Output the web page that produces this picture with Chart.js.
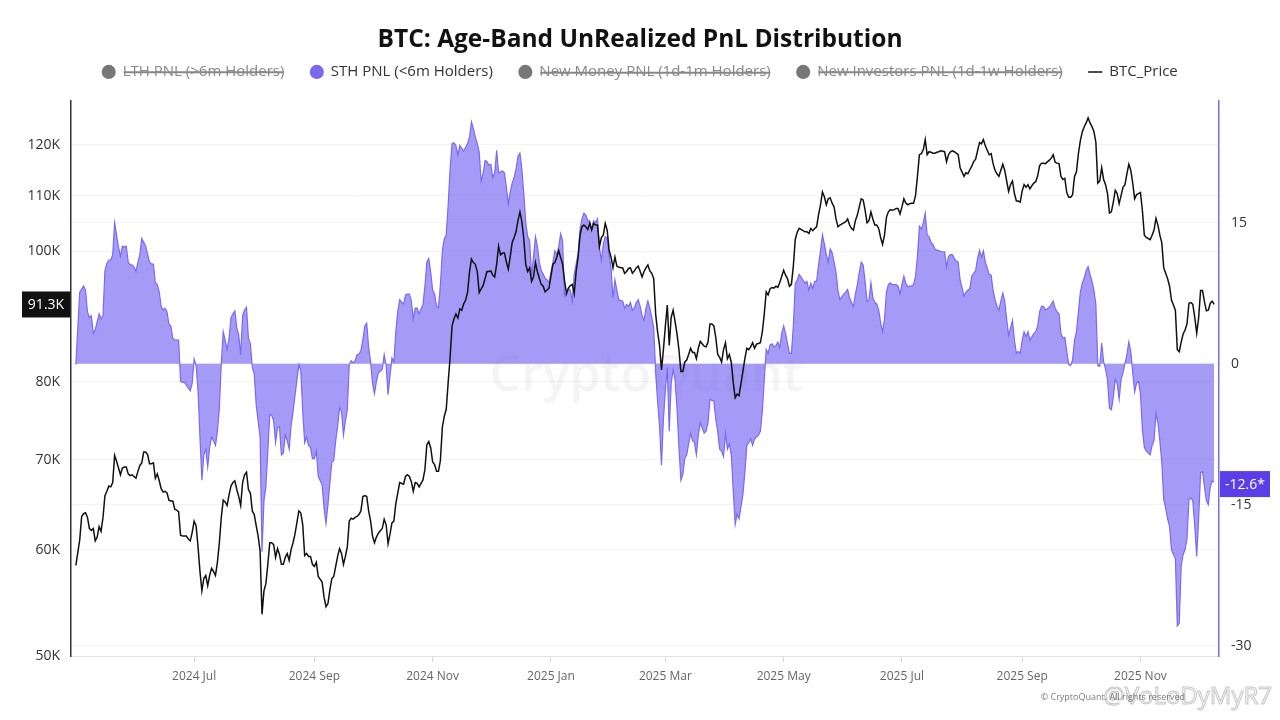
<!DOCTYPE html>
<html>
<head>
<meta charset="utf-8">
<title>BTC: Age-Band UnRealized PnL Distribution</title>
<script src="https://cdn.jsdelivr.net/npm/chart.js@4.4.1/dist/chart.umd.min.js"></script>
<style>
  html, body { margin: 0; padding: 0; background: #fff; }
  #wrap { width: 1280px; height: 720px; }
</style>
</head>
<body>
<div id="wrap"><canvas id="chart" width="1280" height="720"></canvas></div>
<script>
// x = days since 2024-05-01.
const X_MIN = -2.5;
const X_MAX = 589.5;
const MONTH_TICKS = [61, 123, 184, 245, 304, 365, 426, 488, 549];
const MONTH_LABELS = ['2024 Jul', '2024 Sep', '2024 Nov', '2025 Jan', '2025 Mar', '2025 May', '2025 Jul', '2025 Sep', '2025 Nov'];
const PRICE_TICKS = [50, 60, 70, 80, 100, 110, 120]; // K USD, log axis
const PNL_TICKS = [-30, -15, 0, 15];

const LEGEND = ['LTH PNL (>6m Holders)', 'STH PNL (<6m Holders)', 'New Money PNL (1d-1m Holders)', 'New Investors PNL (1d-1w Holders)', 'BTC_Price'];

// STH unrealized PnL [day, value]
const STH_PNL = [
  [0,-0.1],[2,7.6],[4,8.25],[5,7.8],[6,5.5],[7,4.9],[8,5.1],[9,3.2],[10,3.6],[12,5.3],[13,4.75],[14,5.1],[15,9.9],[16,10.65],[17,11.0],[18,11.0],[19,11.6],[20,15.0],
  [21,13.7],[22,12.4],[23,11.4],[24,12.5],[25,12.4],[26,12.5],[27,10.8],[28,10.5],[29,10.5],[30,10.3],[31,9.8],[32,10.8],[33,11.6],[34,13.3],[35,12.9],[36,12.5],
  [38,10.8],[39,10.6],[40,10.6],[41,8.6],[42,8.4],[43,7.6],[44,6.1],[45,5.7],[46,5.9],[47,5.5],[48,4.2],[49,4.0],[50,2.7],[51,2.5],[53,2.5],[54,-1.9],[55,-2.0],
  [56,-2.0],[57,-2.3],[59,-2.9],[60,-2.1],[61,0.5],[62,-0.2],[63,-2.85],[64,-7.8],[65,-12.4],[66,-9.7],[67,-9.1],[68,-11.0],[69,-8.9],[70,-7.8],[71,-8.2],[72,-8.7],
  [73,-7.2],[74,-4.75],[75,0],[76,3.4],[77,2.5],[78,1.5],[79,2.7],[80,4.9],[81,5.3],[82,5.6],[83,3.8],[84,3.0],[85,0.95],[86,5.1],[87,5.7],[88,6.0],[89,2.7],[90,2.1],
  [91,-0.4],[92,-1.1],[93,-4.4],[95,-7.8],[96,-20.0],[97,-14.6],[98,-13.1],[99,-9.3],[100,-5.4],[101,-5.5],[102,-6.1],[103,-8.4],[104,-6.8],[105,-6.7],[106,-9.7],
  [107,-9.5],[108,-7.6],[109,-8.2],[110,-9.1],[111,-6.6],[112,-5.1],[113,-3.4],[115,-0.1],[116,-0.8],[117,-5.1],[118,-8.4],[119,-7.8],[120,-8.7],[121,-8.9],
  [122,-10.1],[123,-10.1],[124,-9.3],[125,-12.0],[127,-12.9],[128,-15.4],[129,-17.0],[130,-15.0],[131,-12.7],[132,-10.5],[133,-10.3],[134,-8.2],[135,-6.65],
  [136,-4.7],[137,-5.1],[138,-7.6],[139,-6.1],[140,-4.9],[141,-0.1],[142,0.3],[143,0.1],[144,0.3],[145,0.95],[146,1.0],[147,1.4],[148,2.5],[149,4.0],[150,4.3],
  [151,1.7],[152,0.2],[153,-2.1],[154,-3.2],[155,-1.9],[156,-1.0],[158,-0.6],[159,0.95],[160,-0.2],[161,-3.3],[162,-1.3],[163,0.6],[164,0.2],[165,3.4],[166,5.5],
  [167,6.8],[169,6.3],[170,7.3],[171,7.4],[172,7.4],[173,6.65],[174,4.75],[175,5.9],[176,5.9],[177,5.3],[179,6.3],[180,8.2],[181,10.8],[182,11.2],[183,9.7],
  [184,7.8],[185,7.4],[186,6.1],[187,6.0],[188,8.4],[189,12.0],[190,13.3],[191,13.7],[192,16.9],[193,20.7],[194,23.4],[195,23.5],[196,23.2],[197,22.2],[198,23.2],
  [200,22.6],[201,23.0],[202,23.4],[203,24.1],[204,25.7],[205,25.0],[206,24.1],[207,23.4],[208,22.5],[209,19.4],[210,20.2],[211,21.6],[212,21.5],[213,21.1],
  [214,21.2],[215,19.8],[216,20.3],[217,22.7],[218,20.3],[220,20.5],[221,20.3],[222,18.8],[223,17.0],[224,18.25],[225,19.2],[226,19.8],[227,20.7],[228,22.05],
  [229,22.4],[230,20.7],[231,18.1],[232,15.0],[233,13.5],[234,13.1],[235,9.3],[236,11.4],[237,13.5],[238,12.5],[239,10.8],[240,9.9],[242,9.1],[243,8.9],[244,8.6],
  [245,9.7],[246,10.8],[247,12.0],[248,11.6],[249,12.4],[250,13.8],[251,13.1],[252,7.2],[253,7.6],[254,8.0],[255,7.8],[256,6.65],[257,9.5],[259,11.7],[260,14.3],
  [261,15.4],[262,16.0],[263,15.8],[264,15.2],[265,15.2],[266,14.3],[267,15.2],[268,15.0],[269,15.4],[270,12.4],[271,11.0],[272,12.7],[273,13.5],[274,13.3],
  [275,11.6],[276,10.1],[277,7.0],[278,8.9],[279,7.8],[280,6.8],[282,6.65],[283,5.9],[284,6.3],[285,6.1],[286,6.5],[287,5.7],[288,5.9],[289,6.5],[290,6.8],
  [291,6.1],[292,5.1],[293,4.6],[294,5.9],[295,6.65],[296,5.9],[297,4.9],[298,3.8],[299,-0.95],[300,-4.0],[301,-6.65],[302,-10.8],[303,-5.9],[304,-2.85],[305,-0.4],
  [306,-7.2],[307,-2.1],[308,-0.65],[309,-1.7],[310,-4.75],[311,-8.9],[312,-12.4],[313,-11.8],[314,-10.1],[315,-9.7],[316,-8.55],[317,-7.4],[318,-8.2],[319,-8.4],
  [320,-9.7],[321,-7.6],[322,-6.3],[324,-7.4],[325,-7.2],[326,-6.3],[327,-3.8],[328,-3.9],[329,-4.0],[330,-5.9],[331,-7.2],[332,-9.1],[333,-9.3],[334,-9.9],
  [335,-7.4],[336,-9.1],[337,-8.55],[338,-9.7],[339,-13.5],[340,-17.1],[341,-16.0],[342,-16.5],[344,-13.9],[345,-11.6],[346,-8.7],[347,-8.4],[348,-8.0],[349,-8.7],
  [350,-8.0],[351,-7.8],[352,-7.6],[353,-7.2],[354,-5.1],[355,-1.7],[356,1.5],[357,1.1],[358,2.0],[359,2.1],[360,1.8],[361,1.9],[362,2.3],[363,1.7],[364,3.2],
  [365,4.0],[366,3.2],[367,2.1],[368,1.1],[369,1.1],[370,4.0],[371,8.55],[372,8.9],[373,9.5],[375,8.9],[376,8.55],[377,8.75],[378,7.8],[379,8.55],[380,8.0],
  [381,8.75],[382,8.75],[383,10.5],[384,12.0],[385,13.7],[386,12.7],[387,11.6],[388,10.8],[389,12.2],[390,11.8],[391,10.8],[392,9.7],[393,7.8],[394,6.8],[396,7.4],
  [397,7.6],[398,7.9],[399,7.0],[400,6.5],[401,6.1],[402,7.4],[403,8.4],[404,9.7],[405,10.8],[406,10.5],[407,8.75],[408,6.65],[409,6.8],[410,8.6],[411,7.0],
  [412,6.5],[413,6.35],[414,5.7],[415,4.4],[416,3.4],[417,4.75],[418,7.6],[419,8.4],[420,8.6],[421,8.4],[422,8.4],[423,8.4],[424,8.25],[425,7.4],[426,8.4],
  [427,9.3],[428,8.55],[429,8.2],[430,8.25],[431,8.25],[432,8.4],[433,9.3],[434,11.4],[435,14.6],[436,14.3],[437,15.0],[438,16.0],[439,13.7],[440,13.5],[441,12.9],
  [442,12.7],[443,12.2],[444,12.05],[445,12.05],[446,11.9],[448,11.9],[449,10.3],[450,11.4],[451,11.6],[452,11.6],[453,11.2],[454,10.9],[455,10.8],[456,8.9],
  [458,7.2],[459,7.6],[460,7.8],[461,8.0],[462,9.3],[463,9.6],[464,9.9],[465,11.2],[466,12.05],[467,11.3],[468,12.0],[469,10.8],[471,9.5],[472,9.4],[473,7.8],
  [474,6.8],[475,6.1],[476,5.7],[477,6.65],[478,7.5],[479,6.65],[480,4.75],[481,3.0],[482,3.8],[483,4.6],[484,2.5],[485,1.1],[486,1.3],[487,1.1],[488,2.5],
  [489,3.4],[490,2.9],[491,3.4],[492,2.5],[493,2.85],[494,3.2],[495,3.4],[496,4.0],[497,5.5],[498,6.1],[499,6.1],[500,5.7],[502,6.0],[503,6.3],[504,6.65],
  [505,5.9],[506,5.5],[507,5.3],[508,3.2],[509,2.7],[510,2.8],[511,1.3],[512,-0.1],[513,-0.2],[514,0.4],[515,2.5],[516,3.4],[517,5.5],[518,7.6],[519,8.55],
  [520,9.1],[521,9.9],[522,10.3],[523,9.5],[524,8.75],[525,7.8],[526,6.3],[527,-0.2],[528,-0.3],[529,2.2],[530,0.2],[531,-0.6],[532,-1.7],[533,-4.75],[534,-4.9],
  [535,-3.6],[536,-1.7],[537,-2.1],[538,-3.8],[539,-1.7],[540,-0.95],[541,0],[542,0.95],[543,2.3],[544,1.3],[545,-0.95],[546,-3.0],[547,-2.1],[548,-1.9],
  [549,-3.2],[550,-7.0],[551,-8.9],[552,-9.3],[554,-9.7],[555,-8.7],[556,-8.2],[557,-5.3],[558,-6.3],[559,-8.2],[560,-10.5],[561,-14.45],[562,-15.4],[563,-16.5],
  [564,-17.3],[565,-19.8],[566,-20.3],[567,-20.7],[568,-27.9],[569,-27.6],[570,-21.5],[571,-20.3],[572,-19.8],[573,-18.6],[574,-14.45],[575,-14.3],[576,-14.6],
  [577,-17.3],[578,-20.5],[579,-16.5],[580,-11.6],[581,-11.5],[582,-13.1],[583,-14.6],[584,-15.0],[585,-13.1],[586,-12.5],[587,-12.6]
];

// BTC price in K USD [day, value]
const BTC_PRICE = [
  [0,58.4],[2,61.0],[3,63.5],[4,63.8],[5,63.9],[6,63.4],[7,62.2],[8,62.0],[9,62.2],[10,60.9],[11,61.3],[12,62.4],[13,61.9],[14,63.4],[15,65.8],[16,66.3],[17,66.9],
  [18,66.8],[19,67.3],[20,70.5],[21,69.8],[22,69.0],[23,68.2],[24,69.0],[25,69.1],[26,69.1],[27,68.3],[28,68.1],[29,68.2],[30,68.0],[31,67.8],[32,68.6],[33,69.3],
  [34,69.6],[35,70.9],[36,70.9],[37,70.6],[38,69.5],[39,69.5],[40,69.6],[41,67.8],[42,68.3],[43,67.5],[44,66.6],[45,66.2],[46,66.3],[47,66.1],[48,65.3],[49,65.2],
  [50,65.2],[51,64.3],[52,64.2],[53,64.0],[54,61.5],[55,61.4],[56,61.4],[57,61.4],[58,61.1],[59,60.9],[60,61.8],[61,63.0],[62,62.5],[63,60.3],[64,57.8],[65,55.9],
  [66,57.1],[67,57.4],[68,56.4],[69,57.4],[70,58.1],[71,57.8],[72,57.4],[73,58.7],[74,60.7],[75,63.4],[76,65.3],[77,65.1],[78,64.7],[79,65.9],[80,66.9],[81,67.3],
  [82,67.5],[83,66.5],[84,65.7],[85,64.7],[86,67.3],[87,68.2],[88,68.5],[89,66.5],[90,66.1],[91,64.1],[92,63.7],[93,62.5],[94,61.4],[95,59.9],[96,53.7],[97,55.9],
  [98,56.6],[99,58.5],[100,60.7],[101,60.7],[102,60.5],[103,59.2],[104,60.1],[105,59.5],[106,58.5],[107,58.5],[108,59.2],[109,59.6],[110,58.9],[111,60.0],[112,60.7],
  [113,61.6],[115,64.1],[116,63.9],[117,62.6],[118,59.4],[119,59.6],[120,59.3],[121,59.3],[122,58.5],[123,58.3],[124,58.7],[125,57.3],[127,56.75],[128,55.3],
  [129,54.4],[130,54.7],[131,56.0],[132,57.1],[133,57.3],[134,58.3],[135,59.3],[136,60.1],[137,59.6],[138,58.5],[139,59.3],[140,60.3],[141,63.0],[142,63.3],
  [143,63.2],[144,63.4],[145,63.5],[146,63.7],[147,64.1],[148,65.7],[149,65.8],[150,65.7],[151,64.1],[152,63.0],[153,61.4],[154,60.7],[155,61.3],[156,61.7],
  [158,62.2],[159,63.2],[160,62.6],[161,60.6],[162,61.6],[163,62.8],[164,63.0],[165,64.9],[166,66.1],[167,67.3],[169,67.1],[170,68.0],[171,68.2],[172,68.0],
  [173,67.4],[174,66.3],[175,67.3],[176,67.2],[177,66.8],[179,67.6],[180,68.8],[181,71.8],[182,72.2],[183,71.4],[184,69.7],[185,69.4],[186,68.6],[187,68.6],
  [188,69.9],[189,74.0],[190,75.4],[191,76.3],[192,79.9],[193,83.4],[194,88.0],[195,89.1],[196,89.8],[197,89.2],[198,90.6],[199,90.4],[200,91.4],[201,92.0],
  [202,93.2],[203,96.5],[204,98.7],[205,98.1],[206,97.8],[207,96.6],[208,93.2],[210,94.3],[211,95.4],[212,96.6],[213,96.6],[214,96.7],[215,96.0],[216,95.7],
  [217,97.8],[218,100.9],[219,99.4],[220,99.7],[221,99.7],[222,98.2],[223,97.0],[224,99.1],[225,101.5],[226,102.4],[227,103.4],[228,105.4],[229,107.0],[230,105.2],
  [231,102.1],[232,97.8],[233,96.6],[234,97.2],[235,95.0],[236,95.7],[237,98.1],[238,96.6],[239,95.5],[240,94.5],[241,94.2],[242,93.3],[243,93.6],[244,93.9],
  [245,95.9],[246,97.8],[247,98.1],[248,99.0],[249,100.1],[251,97.8],[252,95.1],[253,93.0],[254,93.9],[255,94.3],[256,94.5],[257,93.0],[258,96.6],[259,99.0],
  [260,102.8],[261,104.3],[262,104.6],[263,104.3],[264,103.8],[265,104.9],[266,103.7],[267,104.9],[268,104.6],[269,104.6],[270,100.8],[271,102.4],[272,102.8],
  [273,104.9],[274,103.7],[275,100.2],[276,99.0],[277,97.2],[278,99.0],[279,97.5],[280,97.3],[282,97.2],[283,96.3],[284,96.6],[285,97.1],[286,97.2],[287,96.3],
  [288,96.7],[289,97.2],[290,97.5],[291,96.6],[292,95.7],[293,96.6],[294,97.2],[295,97.7],[296,96.7],[297,96.3],[298,95.4],[299,89.8],[300,87.1],[301,85.1],
  [302,81.6],[303,84.5],[304,88.0],[305,91.2],[306,85.1],[307,89.3],[308,90.4],[309,88.7],[310,86.8],[311,84.5],[312,81.4],[313,81.4],[314,82.7],[315,83.0],
  [316,83.8],[317,84.7],[318,84.1],[319,84.1],[320,83.2],[321,84.7],[322,85.7],[324,85.0],[325,84.9],[326,85.6],[327,88.3],[328,88.3],[329,88.0],[330,86.3],
  [331,83.8],[332,83.4],[333,82.7],[334,84.5],[335,85.5],[336,83.2],[337,83.8],[338,82.7],[339,79.9],[340,77.8],[341,78.3],[342,78.1],[344,81.4],[345,83.2],
  [346,84.7],[347,84.5],[348,84.9],[349,85.5],[350,84.7],[351,85.3],[352,85.4],[353,85.5],[354,87.1],[355,89.8],[356,93.3],[357,92.8],[358,93.8],[359,94.0],
  [360,93.9],[361,94.2],[362,94.0],[363,94.8],[365,96.8],[366,96.0],[367,95.4],[368,94.2],[369,94.5],[370,97.5],[371,102.1],[372,103.3],[373,104.0],[375,103.6],
  [376,103.4],[377,103.4],[378,103.1],[379,104.0],[380,103.6],[381,104.0],[382,104.3],[383,106.5],[384,108.3],[385,110.7],[386,109.8],[387,108.3],[388,109.4],
  [389,109.6],[390,108.6],[391,107.9],[392,105.7],[393,104.3],[394,104.6],[396,105.0],[397,105.2],[398,105.7],[399,104.6],[400,104.0],[401,103.7],[402,105.4],
  [403,106.4],[404,107.9],[405,109.4],[406,109.2],[407,107.3],[408,105.0],[409,105.4],[410,107.0],[411,105.7],[412,104.6],[413,104.6],[414,104.0],[415,102.4],
  [416,101.2],[417,102.8],[418,106.0],[419,107.0],[420,107.4],[421,107.3],[422,107.4],[423,107.6],[424,107.6],[425,106.6],[426,107.9],[427,109.4],[428,108.6],
  [429,108.3],[430,108.5],[431,108.6],[432,108.6],[433,110.0],[434,113.7],[435,118.0],[436,118.2],[437,119.0],[438,121.1],[439,118.0],[440,118.6],[441,118.5],
  [442,118.3],[443,118.3],[444,118.5],[445,118.6],[446,118.8],[448,118.6],[449,116.6],[450,118.0],[451,118.6],[452,118.8],[453,118.6],[454,118.3],[455,118.0],
  [456,115.4],[458,113.7],[459,114.4],[460,114.2],[461,115.0],[462,115.7],[463,116.6],[464,117.1],[465,118.8],[466,120.5],[467,120.2],[468,121.1],[469,119.8],
  [471,118.0],[472,118.2],[473,116.2],[474,114.9],[475,114.2],[476,113.7],[477,114.9],[478,116.1],[479,114.9],[480,112.8],[481,110.8],[482,112.1],[483,112.8],
  [484,110.4],[485,109.0],[486,109.0],[487,108.8],[488,110.9],[489,112.1],[490,111.6],[491,112.1],[492,111.3],[493,111.9],[494,112.4],[495,112.7],[496,113.8],
  [497,115.8],[498,116.3],[499,116.3],[500,116.2],[502,116.9],[503,117.3],[504,118.0],[505,116.5],[506,116.3],[507,116.2],[508,113.7],[509,113.1],[510,113.3],
  [511,110.6],[512,109.7],[513,109.7],[514,110.2],[515,113.7],[516,114.6],[517,118.2],[518,120.9],[519,122.7],[520,123.8],[521,124.6],[522,125.7],[523,124.6],
  [524,123.8],[525,122.8],[526,120.5],[527,112.4],[528,112.8],[529,115.4],[530,113.1],[531,112.1],[532,110.4],[533,106.8],[534,107.0],[535,108.8],[536,111.0],
  [537,110.4],[538,108.5],[539,110.0],[540,111.6],[541,112.1],[542,114.2],[543,116.1],[544,114.9],[545,112.4],[546,109.4],[547,110.2],[548,110.4],[549,110.6],
  [550,107.2],[551,102.8],[552,102.4],[554,102.0],[555,102.8],[556,103.7],[557,105.8],[558,104.6],[559,102.8],[560,101.5],[561,97.2],[562,96.3],[563,95.4],
  [564,94.2],[565,92.0],[566,91.2],[567,90.4],[568,84.5],[569,84.2],[570,85.6],[571,86.8],[572,87.4],[573,88.3],[574,91.5],[575,91.6],[576,91.3],[577,89.3],
  [578,86.9],[579,89.2],[580,93.5],[581,93.5],[582,91.7],[583,90.3],[584,90.4],[585,91.5],[586,91.8],[587,91.3]
];

const PURPLE = '#7a6af0';
const PURPLE_FILL = 'rgba(122,106,240,0.68)';
const PURPLE_TAG = '#5a3ee8';
const INK = '#333333';
const HIDDEN_GREY = '#777777';
const FONT = '"Open Sans", "Noto Sans", sans-serif';

Chart.defaults.font.family = FONT;
Chart.defaults.color = INK;

const toXY = (rows) => rows.map(([x, y]) => ({ x, y }));

// Chart.js puts the legend right on top of the plot; the reference has more air.
const legendSpacing = {
  id: 'legendSpacing',
  beforeInit(chart) {
    const fit = chart.legend.fit;
    chart.legend.fit = function () {
      fit.call(this);
      this.height += 11;
    };
  },
};

// faint watermarks of the source
const watermark = {
  id: 'watermark',
  beforeDatasetsDraw(chart) {
    const { ctx, chartArea } = chart;
    ctx.save();
    ctx.font = '600 50px ' + FONT;
    ctx.fillStyle = 'rgba(120,120,140,0.08)';
    ctx.textAlign = 'center';
    ctx.textBaseline = 'middle';
    ctx.fillText('CryptoQuant', (chartArea.left + chartArea.right) / 2 + 1, 377);
    ctx.restore();
  },
  afterDraw(chart) {
    const { ctx } = chart;
    ctx.save();
    ctx.textAlign = 'right';
    ctx.textBaseline = 'alphabetic';
    ctx.font = '24px ' + FONT;
    ctx.strokeStyle = 'rgba(150,150,150,0.55)';
    ctx.lineWidth = 1;
    ctx.strokeText('@VoLoDyMyR7', 1272, 704);
    ctx.font = '9px ' + FONT;
    ctx.fillStyle = 'rgba(90,90,90,0.8)';
    ctx.fillText('\u00a9 CryptoQuant. All rights reserved', 1185, 700);
    ctx.restore();
  },
};

// boxed last values at the axes
const lastValueTags = {
  id: 'lastValueTags',
  afterDraw(chart) {
    const { ctx, chartArea, scales } = chart;
    const lastPrice = BTC_PRICE[BTC_PRICE.length - 1][1];
    const lastPnl = STH_PNL[STH_PNL.length - 1][1];
    ctx.save();
    ctx.font = '14px ' + FONT;
    ctx.textAlign = 'center';
    ctx.textBaseline = 'middle';

    let y = scales.price.getPixelForValue(lastPrice);
    ctx.fillStyle = '#111';
    ctx.fillRect(chartArea.left - 49, y - 13, 48, 26);
    ctx.fillStyle = '#fff';
    ctx.fillText(lastPrice.toFixed(1) + 'K', chartArea.left - 25, y + 1);

    y = scales.pnl.getPixelForValue(lastPnl);
    ctx.fillStyle = PURPLE_TAG;
    ctx.fillRect(chartArea.right + 1, y - 11, 50, 26);
    ctx.fillStyle = '#fff';
    ctx.fillText(lastPnl.toFixed(1) + '*', chartArea.right + 26, y + 3);
    ctx.restore();
  },
};

new Chart(document.getElementById('chart'), {
  type: 'line',
  data: {
    datasets: [
      { label: LEGEND[0], data: [], hidden: true, yAxisID: 'pnl', borderColor: HIDDEN_GREY, backgroundColor: HIDDEN_GREY },
      {
        label: LEGEND[1],
        data: toXY(STH_PNL),
        yAxisID: 'pnl',
        borderColor: PURPLE,
        backgroundColor: PURPLE_FILL,
        borderWidth: 1.2,
        fill: 'origin',
        pointRadius: 0,
        order: 1,
      },
      { label: LEGEND[2], data: [], hidden: true, yAxisID: 'pnl', borderColor: HIDDEN_GREY, backgroundColor: HIDDEN_GREY },
      { label: LEGEND[3], data: [], hidden: true, yAxisID: 'pnl', borderColor: HIDDEN_GREY, backgroundColor: HIDDEN_GREY },
      {
        label: LEGEND[4],
        data: toXY(BTC_PRICE),
        yAxisID: 'price',
        borderColor: '#111',
        backgroundColor: '#111',
        borderWidth: 1.5,
        pointRadius: 0,
        fill: false,
        order: 0,
      },
    ],
  },
  options: {
    responsive: false,
    animation: false,
    layout: { padding: 0 },
    plugins: {
      title: {
        display: true,
        text: 'BTC: Age-Band UnRealized PnL Distribution',
        color: '#111',
        font: { size: 24.5, weight: 'bold' },
        padding: { top: 25, bottom: -16 },
      },
      legend: {
        labels: {
          usePointStyle: true,
          boxHeight: 10,
          boxWidth: 13,
          padding: 26,
          font: { size: 15 },
          generateLabels: (chart) =>
            chart.data.datasets.map((ds, i) => {
              const hidden = !chart.isDatasetVisible(i);
              const isLine = i === 4;
              return {
                text: ds.label,
                datasetIndex: i,
                hidden,
                fontColor: hidden ? '#888' : INK,
                fillStyle: hidden ? HIDDEN_GREY : ds.borderColor,
                strokeStyle: hidden ? HIDDEN_GREY : ds.borderColor,
                lineWidth: isLine ? 1.5 : 0,
                pointStyle: isLine ? 'line' : 'circle',
              };
            }),
        },
      },
      tooltip: { enabled: false },
    },
    scales: {
      x: {
        type: 'linear',
        min: X_MIN,
        max: X_MAX,
        afterBuildTicks: (scale) => {
          scale.ticks = MONTH_TICKS.map((value) => ({ value }));
        },
        afterFit: (scale) => {
          scale.height = 64;
        },
        ticks: {
          autoSkip: false,
          maxRotation: 0,
          padding: 7,
          color: '#666',
          font: { size: 12 },
          callback: (value, index) => MONTH_LABELS[index],
        },
        grid: { drawOnChartArea: false, color: '#d8d8d8', tickLength: 6 },
        border: { color: '#e2e2e2' },
      },
      price: {
        type: 'logarithmic',
        position: 'left',
        min: 50,
        max: 129.5,
        afterBuildTicks: (scale) => {
          scale.ticks = PRICE_TICKS.map((value) => ({ value }));
        },
        afterFit: (scale) => {
          scale.width = 71;
        },
        ticks: {
          padding: 11,
          color: INK,
          font: { size: 14 },
          callback: (value) => value + 'K',
        },
        grid: { color: '#f3f3f3', drawTicks: false },
        border: { color: '#333', width: 1.5 },
      },
      pnl: {
        type: 'linear',
        position: 'right',
        min: -31.1,
        max: 28,
        afterBuildTicks: (scale) => {
          scale.ticks = PNL_TICKS.map((value) => ({ value }));
        },
        afterFit: (scale) => {
          scale.width = 61;
        },
        ticks: {
          padding: 12,
          color: INK,
          font: { size: 14 },
        },
        grid: { color: '#f3f3f3', drawTicks: false },
        border: { color: PURPLE, width: 1.5 },
      },
    },
  },
  plugins: [legendSpacing, watermark, lastValueTags],
});
</script>
</body>
</html>
